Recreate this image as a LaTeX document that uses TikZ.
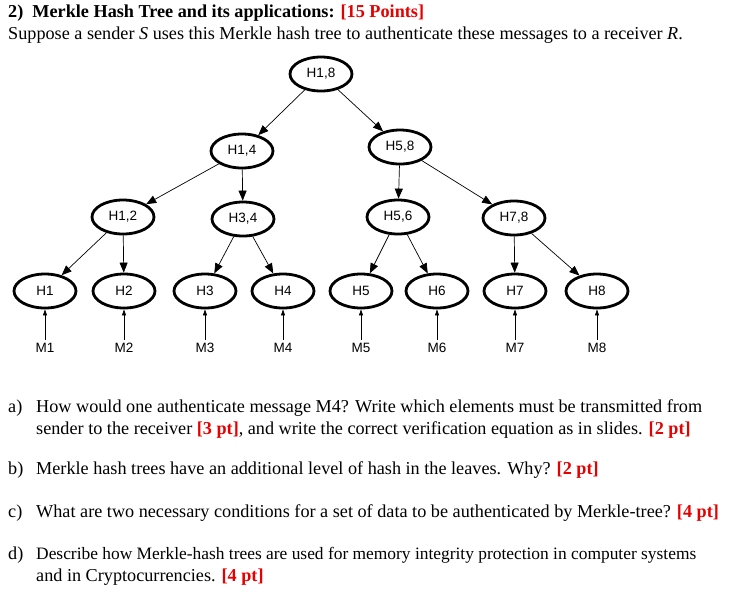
\documentclass[tikz,border=0pt]{standalone}
\usepackage{fontspec}
\setmainfont{Liberation Serif}
\newfontfamily\nodefont{Liberation Sans}
\usetikzlibrary{shapes.geometric,arrows.meta}
\definecolor{ptred}{RGB}{230,0,0}
\newcommand{\pts}[1]{{\color{ptred}\bfseries #1}}
\begin{document}
\begin{tikzpicture}[x=1pt,y=-1pt,
  hnode/.style={ellipse,draw,line width=2.8pt,minimum width=62pt,minimum height=34pt,inner sep=0pt,font=\nodefont\fontsize{13.5}{15}\selectfont},
  mlab/.style={font=\nodefont\fontsize{13.5}{15}\selectfont},
  edge/.style={-{Triangle[length=10pt,width=8pt]},line width=0.7pt},
  txt/.style={anchor=west,inner sep=0pt,font=\fontsize{18.2}{21}\selectfont}]
\useasboundingbox (0,0) rectangle (730,590);
\node[txt] (title) at (8,13) {\textbf{2)\ \ Merkle Hash Tree and its applications:} \pts{[15 Points]}};
\node[txt] (intro) at (8,35) {Suppose a sender \textit{S} uses this Merkle hash tree to authenticate these messages to a receiver \textit{R}.};
\node[hnode] (h18) at (321,74) {H1,8};
\node[hnode] (h14) at (242,151) {H1,4};
\node[hnode] (h58) at (400,147) {H5,8};
\node[hnode] (h12) at (123,217) {H1,2};
\node[hnode] (h34) at (243,219) {H3,4};
\node[hnode] (h56) at (398,217) {H5,6};
\node[hnode] (h78) at (514,218) {H7,8};
\foreach \i/\x in {1/45,2/124,3/205,4/283,5/361,6/437,7/515,8/597}{
  \node[hnode] (h\i) at (\x,291) {H\i};
  \node[mlab] (m\i) at (\x,348) {M\i};
  \draw[-{Triangle[length=6pt,width=4pt]},line width=0.7pt] (m\i.north) -- (h\i.south);
}
\draw[edge] (h18) -- (h14);
\draw[edge] (h18) -- (h58);
\draw[edge] (h14) -- (h12);
\draw[edge] (h14) -- (h34);
\draw[edge] (h58) -- (h56);
\draw[edge] (h58) -- (h78);
\draw[edge] (h12) -- (h1);
\draw[edge] (h12) -- (h2);
\draw[edge] (h34) -- (h3);
\draw[edge] (h34) -- (h4);
\draw[edge] (h56) -- (h5);
\draw[edge] (h56) -- (h6);
\draw[edge] (h78) -- (h7);
\draw[edge] (h78) -- (h8);
\node[txt] (qa) at (8,408) {a)};
\node[txt] (qa1) at (36,408) {How would one authenticate message M4? Write which elements must be transmitted from};
\node[txt] (qa2) at (36,430) {sender to the receiver \pts{[3 pt]}, and write the correct verification equation as in slides. \pts{[2 pt]}};
\node[txt] (qb) at (8,470) {b)};
\node[txt] (qb1) at (36,470) {Merkle hash trees have an additional level of hash in the leaves. Why? \pts{[2 pt]}};
\node[txt] (qc) at (8,513) {c)};
\node[txt] (qc1) at (36,513) {What are two necessary conditions for a set of data to be authenticated by Merkle-tree? \pts{[4 pt]}};
\node[txt] (qd) at (8,555) {d)};
\node[txt,font=\fontsize{17.4}{21}\selectfont] (qd1) at (36,555) {Describe how Merkle-hash trees are used for memory integrity protection in computer systems};
\node[txt] (qd2) at (36,577) {and in Cryptocurrencies. \pts{[4 pt]}};
\end{tikzpicture}
\end{document}
